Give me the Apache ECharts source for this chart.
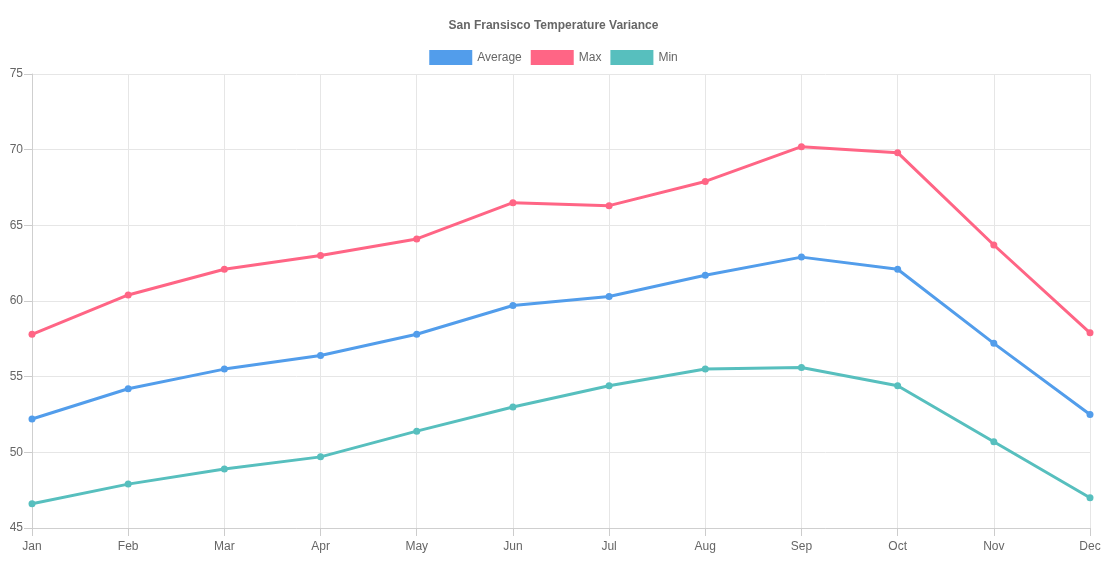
<!DOCTYPE html>
<html>
<head>
    <meta charset="utf-8">
    <style>
        html, body {
            width: 100%;
            height: 100%;
            margin: 0;
            background: #fff;
        }

        #chart-panel {
            width: 1107px;
            height: 575px;
        }
    </style>
    <script src="https://cdnjs.cloudflare.com/ajax/libs/echarts/6.0.0/echarts.min.js"></script>
</head>
<body>
<div id="chart-panel"></div>
<script type="text/javascript">

  // monthly temperatures
  var months = ['Jan', 'Feb', 'Mar', 'Apr', 'May', 'Jun', 'Jul', 'Aug', 'Sep', 'Oct', 'Nov', 'Dec'];
  var average = [52.2, 54.2, 55.5, 56.4, 57.8, 59.7, 60.3, 61.7, 62.9, 62.1, 57.2, 52.5];
  var maxTemp = [57.8, 60.4, 62.1, 63.0, 64.1, 66.5, 66.3, 67.9, 70.2, 69.8, 63.7, 57.9];
  var minTemp = [46.6, 47.9, 48.9, 49.7, 51.4, 53.0, 54.4, 55.5, 55.6, 54.4, 50.7, 47.0];

  var font = 'Liberation Sans, Arial, sans-serif';
  var gridColor = '#e6e6e6';

  var myChart = echarts.init(document.getElementById('chart-panel'));

  function line(name, data, color) {
    return {
      name: name,
      type: 'line',
      data: data,
      symbol: 'circle',
      symbolSize: 7,
      smooth: false,
      lineStyle: { color: color, width: 3 },
      itemStyle: { color: color },
      emphasis: { disabled: true }
    };
  }

  var option = {
    animation: false,
    title: {
      text: 'San Fransisco Temperature Variance',
      left: 'center',
      top: 15,
      textStyle: { fontFamily: font, fontSize: 12, fontWeight: 'bold', color: '#666' }
    },
    color: ['#529deb', '#ff6585', '#57bfbe'],
    legend: {
      top: 45,
      left: 'center',
      itemWidth: 43,
      itemHeight: 15,
      itemGap: 9,
      icon: 'rect',
      textStyle: { fontFamily: font, fontSize: 12, color: '#666' },
      data: ['Average', 'Max', 'Min']
    },
    grid: {
      left: 32,
      right: 17,
      top: 74,
      bottom: 47
    },
    xAxis: {
      type: 'category',
      boundaryGap: false,
      data: months,
      axisLine: { lineStyle: { color: '#cfcfcf' } },
      axisTick: { show: true, interval: 0, inside: false, length: 8, lineStyle: { color: '#cccccc', width: 1 } },
      axisLabel: { fontFamily: font, fontSize: 12, color: '#666', margin: 13 },
      splitLine: { show: true, lineStyle: { color: gridColor } }
    },
    yAxis: {
      type: 'value',
      min: 45,
      max: 75,
      interval: 5,
      axisLine: { show: true, lineStyle: { color: '#cfcfcf' } },
      axisTick: { show: true, inside: false, length: 8, lineStyle: { color: '#cccccc', width: 1 } },
      axisLabel: { fontFamily: font, fontSize: 12, color: '#666', margin: 9 },
      splitLine: { show: true, lineStyle: { color: gridColor } }
    },
    series: [
      line('Average', average, '#529deb'),
      line('Max', maxTemp, '#ff6585'),
      line('Min', minTemp, '#57bfbe')
    ]
  };

  myChart.setOption(option);
</script>
</body>
</html>
